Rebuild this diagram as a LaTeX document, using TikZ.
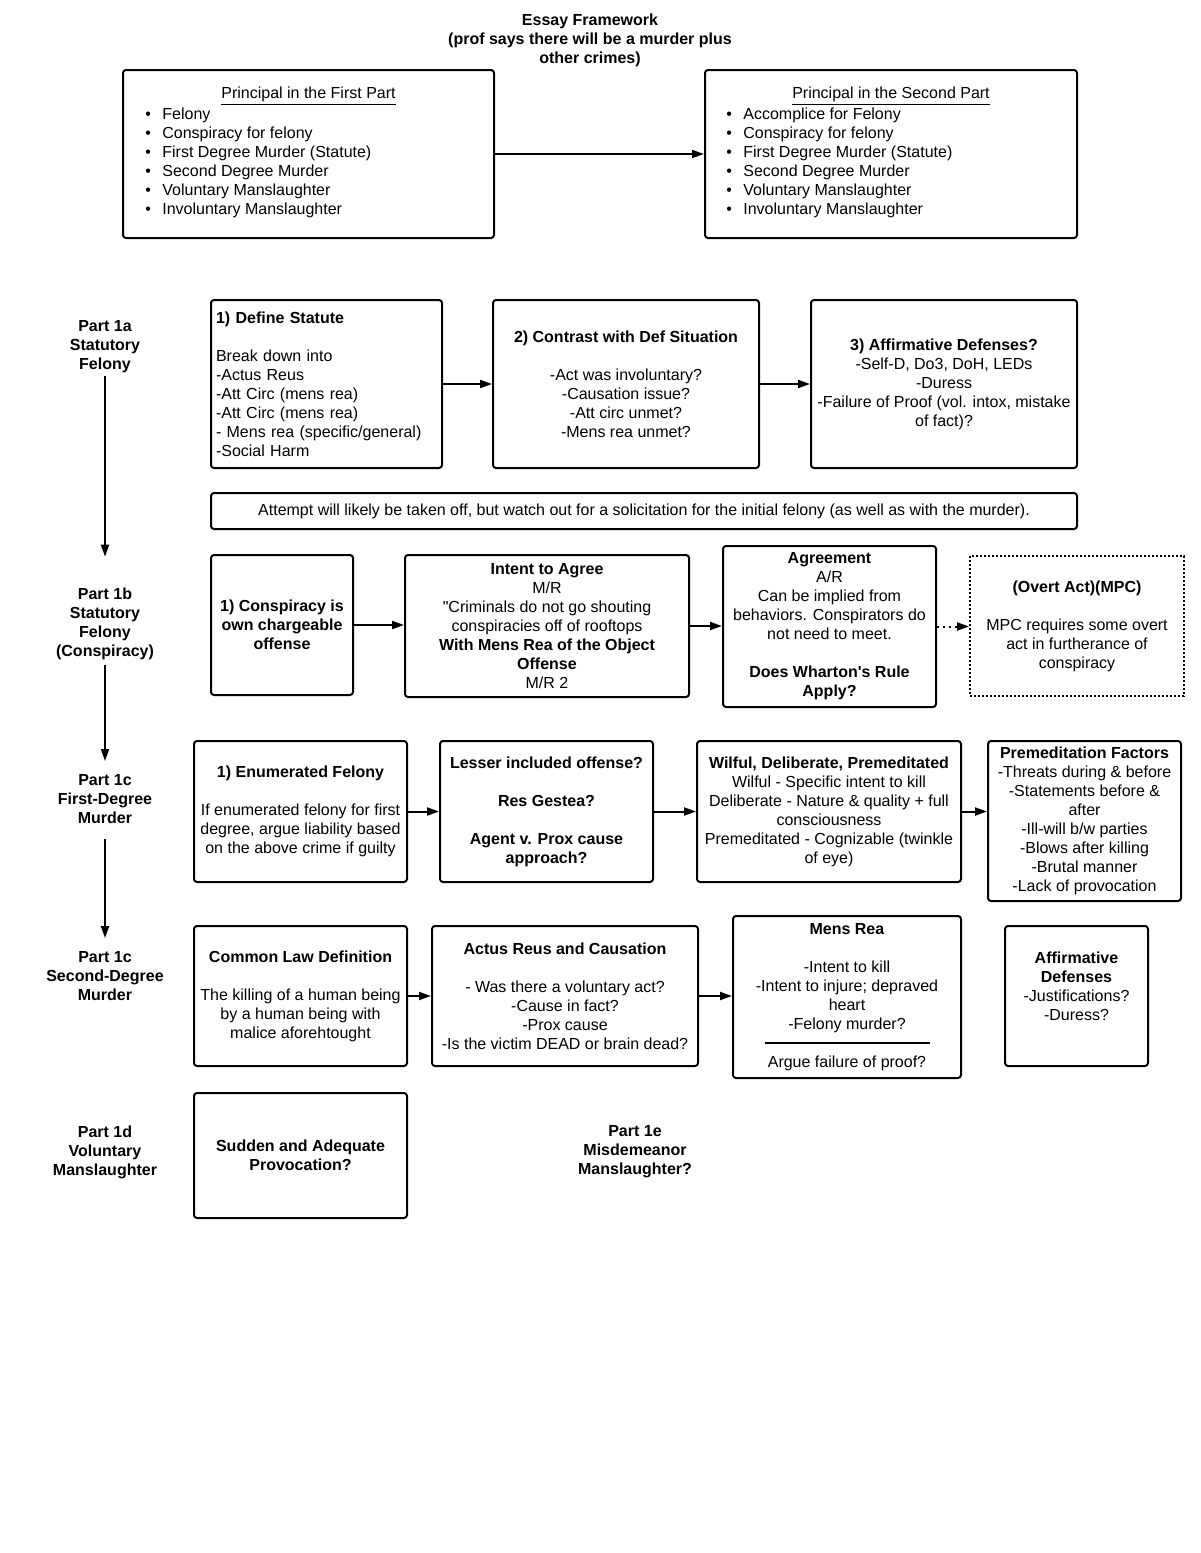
\documentclass[tikz,border=0pt]{standalone}
\usepackage{fontspec}
\setmainfont{Liberation Sans}[Ligatures=TeXOff]
\usepackage{tikz}
\usetikzlibrary{positioning, arrows.meta}

\newcommand{\crimeitem}{\makebox[8.5pt][l]{\textbullet}}

\begin{document}
\begin{tikzpicture}[x=0.5pt, y=-0.5pt,
    every node/.style={font=\fontsize{8}{9.5}\selectfont, inner sep=1pt},
    stepbox/.style={draw, line width=1pt, rounded corners=1.5pt, align=center, inner sep=2pt},
    dotbox/.style={draw, line width=1pt, densely dotted, align=center, inner sep=2pt},
    partlabel/.style={font=\fontsize{8}{9.5}\selectfont\bfseries, align=center},
    flow/.style={-{Triangle[length=6pt,width=4pt]}, line width=1pt}]

      \useasboundingbox (0,0) rectangle (1200,1553);

      \node[partlabel] (title) at (590,40) {Essay Framework\\(prof says there will be a murder plus\\other crimes)};

      \node[stepbox, minimum width=185.5pt, minimum height=84pt] (pfp) at (308.5,154) {};
      \node (pfphead) at (308.5,96) {\underline{Principal in the First Part}};
      \node[align=left, anchor=west] (pfplist) at (143,162.5) {\crimeitem Felony\\\crimeitem Conspiracy for felony\\\crimeitem First Degree Murder (Statute)\\\crimeitem Second Degree Murder\\\crimeitem Voluntary Manslaughter\\\crimeitem Involuntary Manslaughter};

      \node[stepbox, minimum width=186pt, minimum height=84pt] (psp) at (891,154) {};
      \node (psphead) at (891,96) {\underline{Principal in the Second Part}};
      \node[align=left, anchor=west] (psplist) at (724,162.5) {\crimeitem Accomplice for Felony\\\crimeitem Conspiracy for felony\\\crimeitem First Degree Murder (Statute)\\\crimeitem Second Degree Murder\\\crimeitem Voluntary Manslaughter\\\crimeitem Involuntary Manslaughter};

      \draw[flow] (pfp.east) -- (psp.west);

      % part labels down the left
      \node[partlabel] (lab1a) at (105,347) {Part 1a\\Statutory\\Felony};
      \node[partlabel] (lab1b) at (105,624) {Part 1b\\Statutory\\Felony\\(Conspiracy)};
      \node[partlabel] (lab1c) at (105,799) {Part 1c\\First-Degree\\Murder};
      \node[partlabel] (lab2c) at (105,976) {Part 1c\\Second-Degree\\Murder};
      \node[partlabel] (lab1d) at (105,1152) {Part 1d\\Voluntary\\Manslaughter};
      \node[partlabel] (lab1e) at (635,1152) {Part 1e\\Misdemeanor\\Manslaughter?};

      \draw[flow, shorten >=14.5pt] (lab1a) -- (lab1b);
      \draw[flow, shorten <=1.5pt, shorten >=5.5pt] (lab1b) -- (lab1c);
      \draw[flow, shorten <=6.5pt, shorten >=5.5pt] (lab1c) -- (lab2c);

      \node[stepbox, align=left, minimum width=115.5pt, minimum height=84pt, text width=110.5pt] (define) at (326.5,384) {\textbf{1) Define Statute}\\[9.5pt]Break down into\\-Actus Reus\\-Att Circ (mens rea)\\-Att Circ (mens rea)\\- Mens rea (specific/general)\\-Social Harm};
      \node[stepbox, minimum width=133pt, minimum height=84pt] (contrast) at (626,384) {\textbf{2) Contrast with Def Situation}\\[9.5pt]-Act was involuntary?\\-Causation issue?\\-Att circ unmet?\\-Mens rea unmet?};
      \node[stepbox, minimum width=133pt, minimum height=84pt] (affirm) at (944,384) {\textbf{3) Affirmative Defenses?}\\-Self-D, Do3, DoH, LEDs\\-Duress\\-Failure of Proof (vol. intox, mistake\\of fact)?};

      \draw[flow] (define.east) -- (contrast.west);
      \draw[flow] (contrast.east) -- (affirm.west);

      \node[stepbox, minimum width=433pt, minimum height=18pt] (attempt) at (644,511) {Attempt will likely be taken off, but watch out for a solicitation for the initial felony (as well as with the murder).};

      \node[stepbox, minimum width=71pt, minimum height=70pt] (consp) at (282,625) {\textbf{1) Conspiracy is}\\\textbf{own chargeable}\\\textbf{offense}};
      \node[stepbox, minimum width=142pt, minimum height=71pt] (intent) at (547,626) {\textbf{Intent to Agree}\\M/R\\"Criminals do not go shouting\\conspiracies off of rooftops\\\textbf{With Mens Rea of the Object}\\\textbf{Offense}\\M/R 2};
      \node[stepbox, minimum width=106.5pt, minimum height=80.5pt] (agree) at (829.5,626.5) {\textbf{Agreement}\\A/R\\Can be implied from\\behaviors. Conspirators do\\not need to meet.\\[9.5pt]\textbf{Does Wharton's Rule}\\\textbf{Apply?}};
      \node[dotbox, minimum width=107pt, minimum height=70pt] (overt) at (1077,626) {\textbf{(Overt Act)(MPC)}\\[9.5pt]MPC requires some overt\\act in furtherance of\\conspiracy};

      \draw[flow] (consp.east) -- (consp.east -| intent.west);
      \draw[flow] (intent.east) -- (intent.east -| agree.west);
      \draw[flow, dotted] (agree.east) -- (agree.east -| overt.west);

      \node[stepbox, minimum width=106.5pt, minimum height=70.5pt] (enum) at (300.5,811.5) {\textbf{1) Enumerated Felony}\\[9.5pt]If enumerated felony for first\\degree, argue liability based\\on the above crime if guilty};
      \node[stepbox, minimum width=106.5pt, minimum height=70.5pt] (lesser) at (546.5,811.5) {\textbf{Lesser included offense?}\\[9.5pt]\textbf{Res Gestea?}\\[9.5pt]\textbf{Agent v. Prox cause}\\\textbf{approach?}};
      \node[stepbox, minimum width=132pt, minimum height=70.5pt] (wilful) at (829,811.5) {\textbf{Wilful, Deliberate, Premeditated}\\Wilful - Specific intent to kill\\Deliberate - Nature \& quality + full\\consciousness\\Premeditated - Cognizable (twinkle\\of eye)};
      \node[stepbox, minimum width=96.5pt, minimum height=80pt] (premed) at (1084.5,821) {\textbf{Premeditation Factors}\\-Threats during \& before\\-Statements before \&\\after\\-Ill-will b/w parties\\-Blows after killing\\-Brutal manner\\-Lack of provocation};

      \draw[flow] (enum.east) -- (enum.east -| lesser.west);
      \draw[flow] (lesser.east) -- (lesser.east -| wilful.west);
      \draw[flow] (wilful.east) -- (wilful.east -| premed.west);

      \node[stepbox, minimum width=106.5pt, minimum height=70pt] (common) at (300.5,996) {\textbf{Common Law Definition}\\[9.5pt]The killing of a human being\\by a human being with\\malice aforehtought};
      \node[stepbox, minimum width=133pt, minimum height=70pt] (actus) at (565,996) {\textbf{Actus Reus and Causation}\\[9.5pt]- Was there a voluntary act?\\-Cause in fact?\\-Prox cause\\-Is the victim DEAD or brain dead?};
      \node[stepbox, minimum width=114pt, minimum height=81pt] (mensrea) at (847,997) {\textbf{Mens Rea}\\[9.5pt]-Intent to kill\\-Intent to injure; depraved\\heart\\-Felony murder?\\[9.5pt]Argue failure of proof?};
      \draw[line width=0.6pt] (765,1043) -- (930,1043);
      \node[stepbox, minimum width=71.5pt, minimum height=70pt] (affdef) at (1076.5,996) {\textbf{Affirmative}\\\textbf{Defenses}\\-Justifications?\\-Duress?\\\mbox{}};

      \draw[flow] (common.east) -- (common.east -| actus.west);
      \draw[flow] (actus.east) -- (actus.east -| mensrea.west);

      \node[stepbox, minimum width=106.5pt, minimum height=62.5pt] (sudden) at (300.5,1155.5) {\textbf{Sudden and Adequate}\\\textbf{Provocation?}};
    \end{tikzpicture}
\end{document}
